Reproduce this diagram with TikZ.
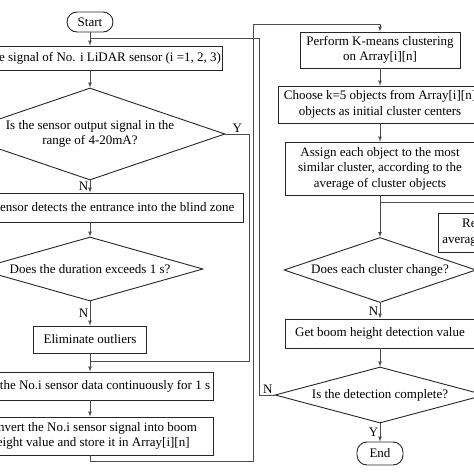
\documentclass[tikz,border=0pt]{standalone}
\usepackage{fontspec}
\setmainfont{Liberation Serif}
\usetikzlibrary{shapes,arrows}

\begin{document}
\begin{tikzpicture}[x=1pt,y=-1pt,>=latex]
\tikzstyle{every node}=[font=\fontsize{13}{15.5}\selectfont]
\tikzstyle{process}=[draw=black!85,line width=0.9pt,rectangle,inner sep=0pt,align=center]
\tikzstyle{decision}=[draw=black!85,line width=0.9pt,diamond,inner sep=0pt,align=center]
\tikzstyle{terminal}=[draw=black!85,line width=0.9pt,rectangle,rounded corners=10pt,inner sep=0pt]
\tikzstyle{line}=[draw=black!70,line width=0.7pt]
\tikzstyle{lab}=[inner sep=1.5pt]
\useasboundingbox (0,0) rectangle (474,474);
\clip (0,0) rectangle (474,474);
\node [terminal,minimum width=46pt,minimum height=20pt] (start) at (90,22) {Start};
\node [process,minimum width=264pt,minimum height=24pt] (b1) at (90,58) {Read the signal of No. i LiDAR sensor (i =1, 2, 3)};
\node [decision,aspect=2.93,minimum width=270pt,minimum height=92pt] (d1) at (90,134) {Is the sensor output signal in the\\range of 4-20mA?};
\node [process,minimum width=306pt,minimum height=29pt] (b2) at (90,207.5) {The No.i sensor detects the entrance into the blind zone};
\node [decision,aspect=3.53,minimum width=226pt,minimum height=64pt] (d2) at (90,269) {Does the duration exceeds 1 s?};
\node [process,minimum width=113pt,minimum height=27pt] (b3) at (90,339.5) {Eliminate outliers};
\node [process,minimum width=246pt,minimum height=28pt] (b4) at (90,386) {Read the No.i sensor data continuously for 1 s};
\node [process,minimum width=246pt,minimum height=38pt] (b5) at (90,436) {Convert the No.i sensor signal into boom\\height value and store it in Array[i][n]};
\node [process,minimum width=160pt,minimum height=36pt] (k1) at (380,50) {Perform K-means clustering\\on Array[i][n]};
\node [process,minimum width=204pt,minimum height=37pt] (k2) at (380,104.5) {Choose k=5 objects from Array[i][n]\\objects as initial cluster centers};
\node [process,minimum width=190pt,minimum height=53pt] (k3) at (380,168.5) {Assign each object to the most\\similar cluster, according to the\\average of cluster objects};
\node [process,minimum width=128pt,minimum height=39pt] (r1) at (502,232.5) {Recalculate the\\average of each cluster};
\node [decision,aspect=2.92,minimum width=192pt,minimum height=65pt] (d3) at (380,270) {Does each cluster change?};
\node [process,minimum width=190pt,minimum height=29pt] (k4) at (380,333.5) {Get boom height detection value};
\node [decision,aspect=3.68,minimum width=210pt,minimum height=56pt] (d4) at (380,395) {Is the detection complete?};
\node [terminal,minimum width=46pt,minimum height=23pt] (end) at (380,453.5) {End};
\coordinate (sj) at (90,38);
\coordinate (yr) at (249,134);
\coordinate (yd) at (249,361);
\coordinate (mj) at (90,361);
\coordinate (lb) at (253,461);
\coordinate (lt) at (253,24);
\coordinate (nb) at (259,395);
\coordinate (nt) at (259,38);
\coordinate (kj) at (380,202);
\draw [line,->] (start) -- (b1);
\draw [line,->] (b1) -- (d1);
\draw [line,->] (d1.south) -- node[left,lab] (n1) {N} (b2.north);
\draw [line] (d1.east) -- node[above,lab] (y1) {Y} (yr) -- (yd) -- (mj);
\draw [line,->] (b2) -- (d2);
\draw [line,->] (d2.south) -- node[left,lab] (n2) {N} (b3.north);
\draw [line,->] (b3) -- (b4);
\draw [line,->] (b4) -- (b5);
\draw [line,->] (b5.south) |- (lb) -- (lt) -| (k1.north);
\draw [line,->] (k1) -- (k2);
\draw [line,->] (k2) -- (k3);
\draw [line,->] (k3) -- (d3);
\draw [line,->] (d3.east) -| (r1.south);
\draw [line] (r1.north) |- (kj);
\draw [line,->] (d3.south) -- node[left,lab] (n3) {N} (k4.north);
\draw [line,->] (k4) -- (d4);
\draw [line,->] (d4.south) -- node[left,lab] (y4) {Y} (end.north);
\draw [line] (d4.west) -- node[above,pos=0.44,lab] (n4) {N} (nb) -- (nt) -- (sj);
\end{tikzpicture}
\end{document}
